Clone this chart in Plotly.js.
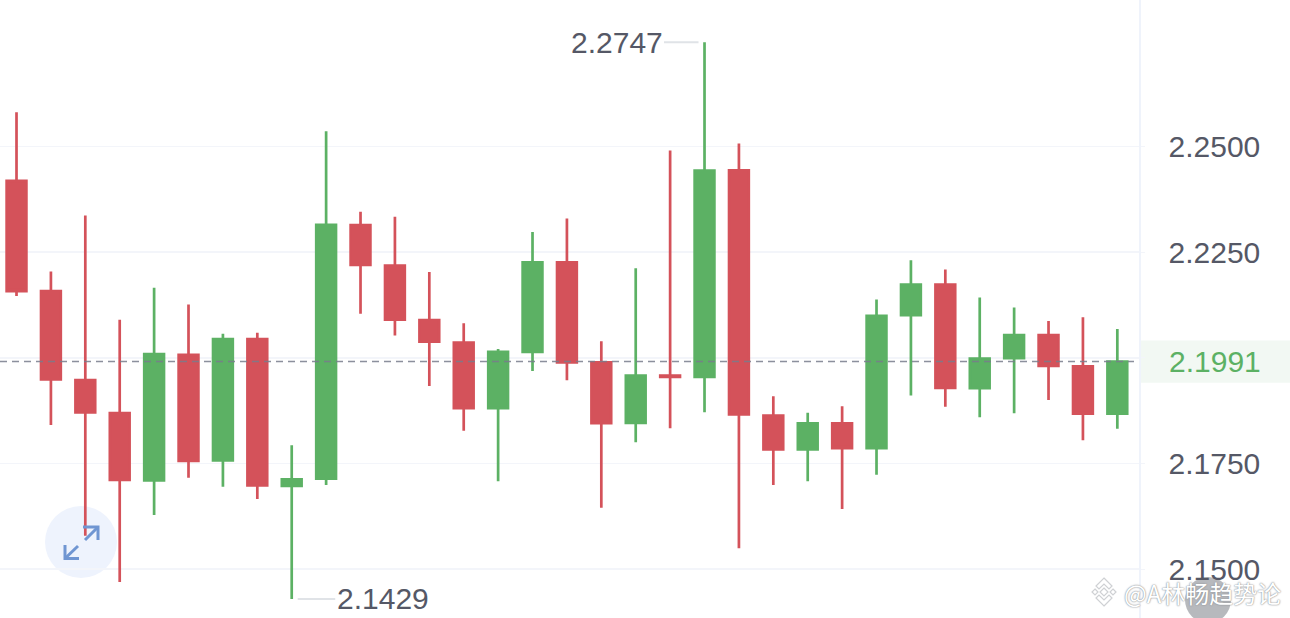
<!DOCTYPE html>
<html><head><meta charset="utf-8">
<script src="https://cdn.plot.ly/plotly-3.0.1.min.js"></script>
<style>html,body{margin:0;padding:0;background:#fff;overflow:hidden}#c{width:1290px;height:618px}</style>
</head><body><div id="c"></div>
<script>
const opens =[2.2419,2.2158,2.1947,2.1869,2.1710,2.2007,2.1757,2.2044,2.1697,2.1714,2.2314,2.2218,2.2089,2.2036,2.1881,2.2014,2.2226,2.1989,2.1846,2.1958,2.1955,2.2444,2.1863,2.1783,2.1845,2.1786,2.2101,2.2173,2.1928,2.1999,2.2054,2.1980,2.1868];
const closes=[2.2158,2.1949,2.1871,2.1711,2.2009,2.1756,2.2044,2.1698,2.1712,2.2315,2.2220,2.2090,2.2038,2.1881,2.2014,2.2226,2.1989,2.1845,2.1958,2.1955,2.2443,2.1866,2.1783,2.1845,2.1786,2.2099,2.2173,2.1929,2.1998,2.2054,2.1981,2.1868,2.1991];
const highs =[2.2581,2.2204,2.2337,2.2090,2.2166,2.2126,2.2057,2.2059,2.1793,2.2536,2.2346,2.2334,2.2203,2.2082,2.2021,2.2298,2.2330,2.2039,2.2212,2.2491,2.2747,2.2507,2.1909,2.1870,2.1885,2.2138,2.2231,2.2209,2.2143,2.2119,2.2087,2.2096,2.2068];
const lows  =[2.2146,2.1841,2.1579,2.1469,2.1628,2.1716,2.1695,2.1666,2.1429,2.1699,2.2104,2.2053,2.1933,2.1827,2.1708,2.1969,2.1947,2.1645,2.1800,2.1833,2.1871,2.1549,2.1699,2.1708,2.1642,2.1723,2.1911,2.1884,2.1859,2.1869,2.1900,2.1805,2.1832];
const xs = opens.map((_,i)=>i);
const tickVals=[2.15,2.175,2.2,2.225,2.25];
const tickText=['2.1500','2.1750','','2.2250','2.2500'];
const lastPrice=2.1991, peak=2.2747, trough=2.1429, peakIdx=20, troughIdx=8;
const W=1290,H=618, RED='#d4525a', GREEN='#5cb164';
const fx=x=>x/W, fy=y=>1-y/H;
const pth=(pts,close)=>'M'+pts.map(p=>fx(p[0]).toFixed(5)+' '+fy(p[1]).toFixed(5)).join('L')+(close?'Z':'');
const circle=(cx,cy,r,c,layer)=>({type:'circle',xref:'paper',yref:'paper',x0:fx(cx-r),x1:fx(cx+r),y0:fy(cy+r),y1:fy(cy-r),fillcolor:c,line:{width:0},layer});
const icon=(pts,close,fill)=>({type:'path',xref:'paper',yref:'paper',path:pth(pts,close),layer:'above',fillcolor:fill||'rgba(0,0,0,0)',line:{color:'#7096d2',width:3}});
const mark=pts=>({type:'path',xref:'paper',yref:'paper',path:pth(pts,true),layer:'above',fillcolor:'#ffffff',line:{color:'#cfd1d4',width:1.2}});
const lx=1104,ly=592;
const shapes=[
 circle(81,542,36,'#eef3fd','below'),
 circle(1208,600,23,'#b7b9bd','below'),
 {type:'rect',xref:'paper',yref:'y',x0:fx(1140),x1:1,y0:lastPrice-0.0050,y1:lastPrice+0.0050,fillcolor:'#f2f8f3',line:{width:0},layer:'below'},
 {type:'line',xref:'paper',yref:'y',x0:0,x1:fx(1134),y0:lastPrice,y1:lastPrice,line:{color:'rgba(120,125,140,0.85)',width:1.5,dash:'7px 5px'},layer:'above'},
 icon([[83,527],[98,527],[98,540]]),icon([[97,528],[85,540]]),
 icon([[65,545],[65,558.5],[79,558.5]]),icon([[66,557.5],[78,546]]),
 mark([[lx,ly-4],[lx+4,ly],[lx,ly+4],[lx-4,ly]]),
 mark([[lx-9,ly-3],[lx-6,ly],[lx-9,ly+3],[lx-12,ly]]),
 mark([[lx+9,ly-3],[lx+12,ly],[lx+9,ly+3],[lx+6,ly]]),
 mark([[lx,ly-14],[lx+8,ly-6],[lx+5,ly-3],[lx,ly-8],[lx-5,ly-3],[lx-8,ly-6]]),
 mark([[lx,ly+14],[lx+8,ly+6],[lx+5,ly+3],[lx,ly+8],[lx-5,ly+3],[lx-8,ly+6]])
];
const labelFont={family:'"Liberation Sans",Arial,sans-serif',size:30,color:'#555866'};
const ext=(x,y,text,ax)=>({x,y,xref:'x',yref:'y',text:String(text),showarrow:true,arrowhead:0,arrowwidth:1.8,arrowcolor:'#e0e3e7',ax,ay:0,standoff:6,font:labelFont});
const annotations=[
 ext(peakIdx,peak,peak.toFixed(4),-88),
 ext(troughIdx,trough,trough.toFixed(4),91),
 {xref:'paper',yref:'y',x:fx(1215),y:lastPrice,xanchor:'center',yanchor:'middle',text:lastPrice.toFixed(4),showarrow:false,font:{family:labelFont.family,size:30,color:'#5cb164'}},
 {xref:'paper',yref:'paper',x:fx(1124),y:fy(592),xanchor:'left',yanchor:'middle',xshift:-2,text:'@A林畅趋势论',showarrow:false,
  font:{family:'"Noto Sans CJK SC","Liberation Sans",sans-serif',size:24,color:'#ffffff',shadow:'0 0 2px #8f9296, 0 0 1px #8f9296'}}
];
const trace={type:'candlestick',x:xs,open:opens,high:highs,low:lows,close:closes,
 increasing:{line:{color:GREEN,width:2.7},fillcolor:GREEN},
 decreasing:{line:{color:RED,width:2.7},fillcolor:RED},
 whiskerwidth:0,showlegend:false,hoverinfo:'skip'};
const layout={width:W,height:H,margin:{l:0,r:0,t:0,b:0},paper_bgcolor:'#fff',plot_bgcolor:'#fff',showlegend:false,
 boxgap:0.18,
 xaxis:{domain:[0,1139/W],range:[-0.48,32.63],visible:false,rangeslider:{visible:false},fixedrange:true},
 yaxis:{side:'right',anchor:'x',range:[2.1384,2.2847],tickmode:'array',tickvals:tickVals,ticktext:tickText,
  showgrid:true,gridcolor:'#f3f5fa',gridwidth:1.5,zeroline:false,showline:true,linecolor:'#eff3fb',linewidth:1.5,
  ticks:'outside',ticklen:4,tickcolor:'#f3f5fa',ticklabelstandoff:18,tickfont:labelFont,fixedrange:true},
 shapes,annotations};
Plotly.newPlot('c',[trace],layout,{displayModeBar:false,staticPlot:true});
</script></body></html>
